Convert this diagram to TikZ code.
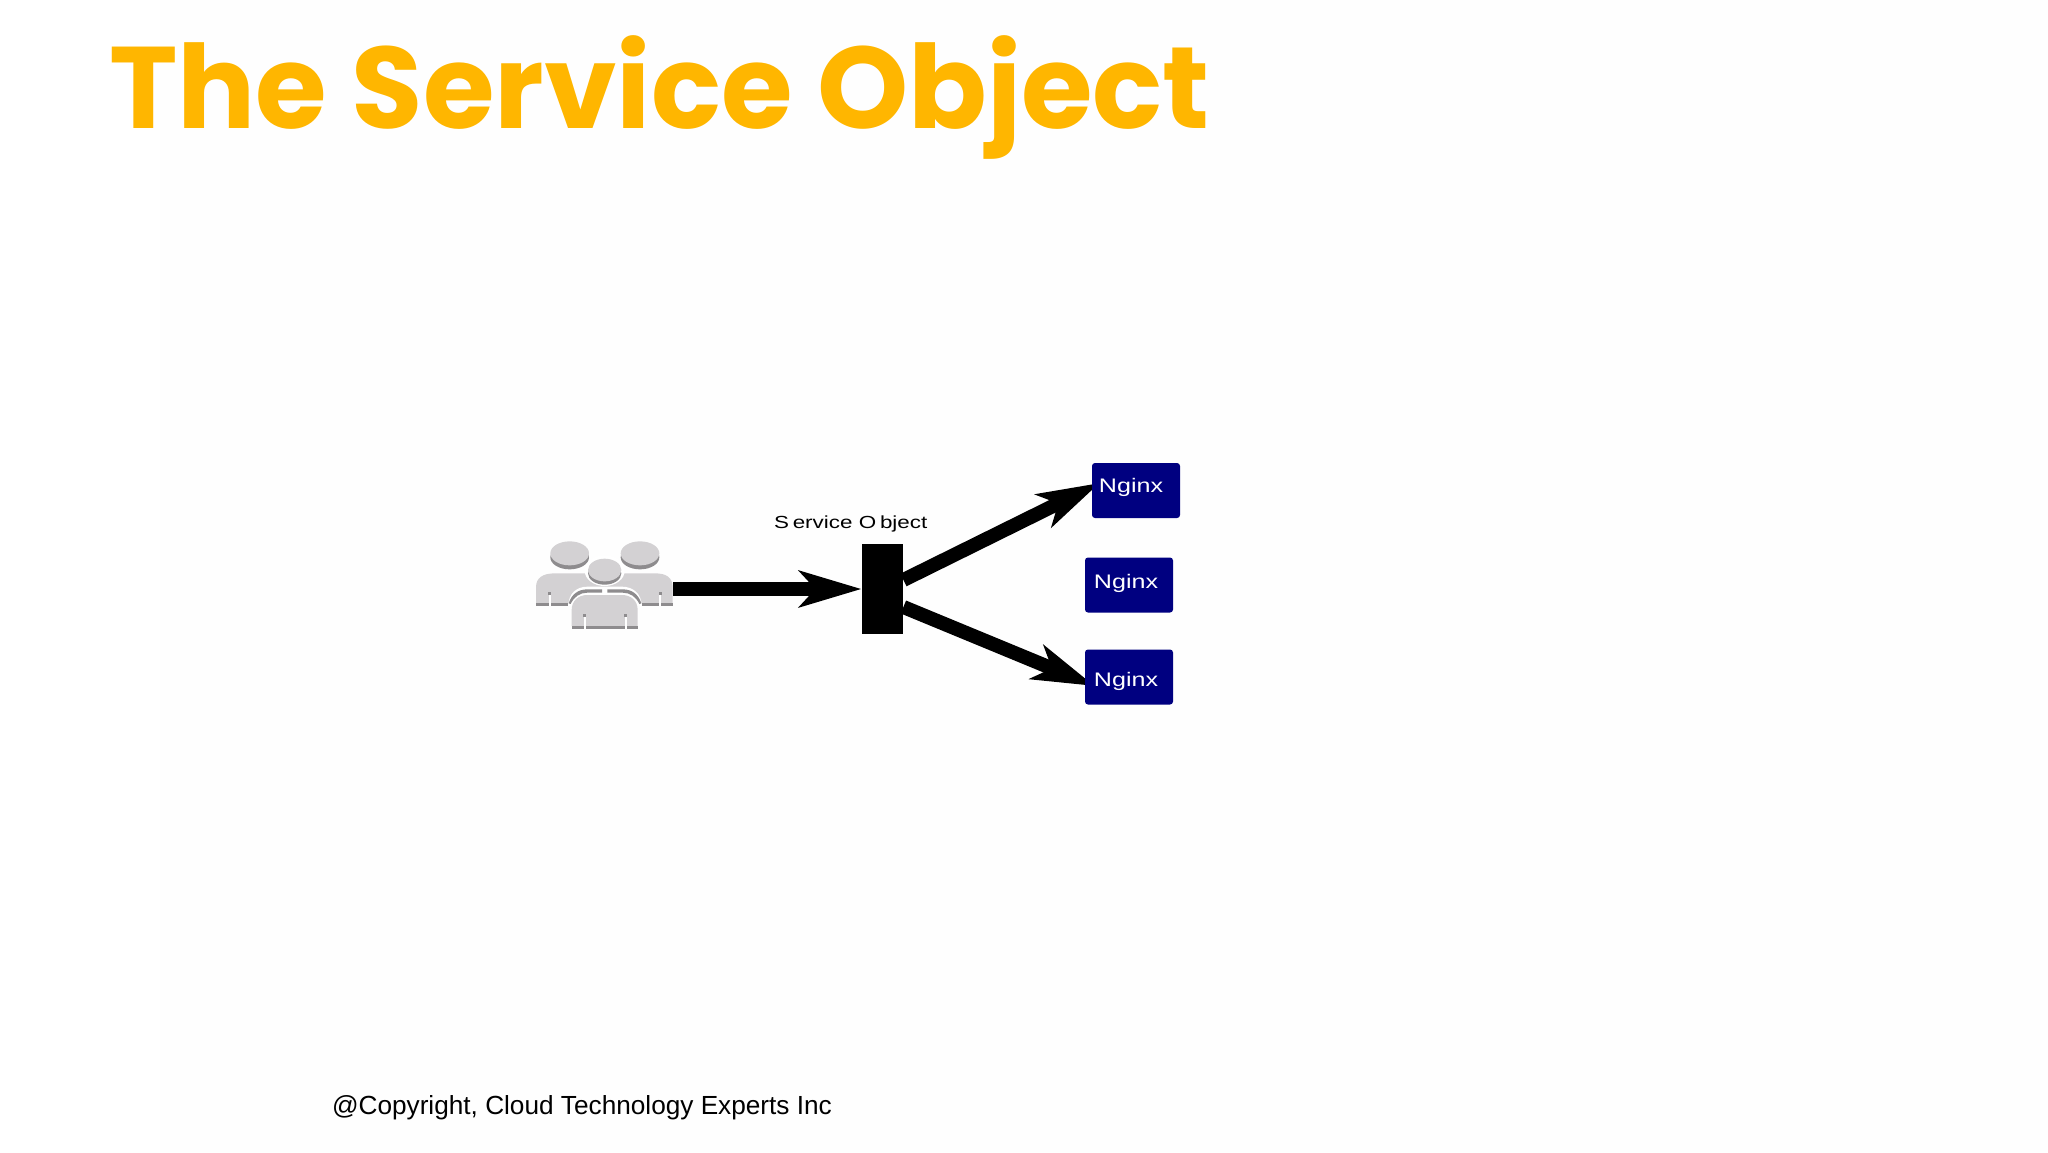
\documentclass[tikz,border=0pt]{standalone}
\usepackage{fontspec}
\setmainfont{Liberation Sans}
\newfontfamily\titlefont{Poppins}
\usetikzlibrary{arrows.meta,backgrounds}
\definecolor{titleyellow}{HTML}{FFB600}
\definecolor{navybox}{HTML}{000080}
\definecolor{usergray}{HTML}{D3D1D3}
\definecolor{usershade}{HTML}{8E8C8E}
\definecolor{pagebg}{HTML}{FEFEFE}
\tikzset{
  ngxbox/.style={fill=navybox,text=white,inner sep=0pt,minimum width=44pt,minimum height=27.5pt,rounded corners=1.5pt,font=\fontsize{9.8}{11}\selectfont},
  flow/.style={line width=7pt,black,-{Stealth[length=31pt,width=18pt,inset=8pt]}},
  svcbox/.style={fill=black,inner sep=0pt,minimum width=20.5pt,minimum height=45pt},
  plain/.style={inner sep=0pt,outer sep=0pt}
}
\begin{document}
\begin{tikzpicture}[x=0.5pt,y=-0.5pt]
\useasboundingbox (0,0) rectangle (2048,1152);
\node[plain,anchor=base west,text=titleyellow] (title) at (109,128) {\titlefont\bfseries\fontsize{58}{60}\selectfont The Service Object};
\node[plain,anchor=base west] (copy) at (332,1114) {\fontsize{13.1}{15}\selectfont @Copyright, Cloud Technology Experts Inc};
\node[plain,anchor=base west] (svclabel) at (774,528) {\scalebox{1.28}[1]{\fontsize{8.75}{10}\selectfont S\kern1.5pt ervice O\kern1.5pt bject}};
\node[plain,minimum width=68.5pt,minimum height=44.5pt] (users) at (604.5,585.5) {};
\node[svcbox] (svc) at (882.5,589) {};
\node[ngxbox,text height=10pt,text depth=8.5pt] (n1) at (1136,490.5) {\scalebox{1.28}[1]{Nginx}\kern5pt};
\node[ngxbox,text height=10pt,text depth=7pt] (n2) at (1129,585) {\scalebox{1.28}[1]{Nginx}\kern3pt};
\node[ngxbox,text height=10pt,text depth=1pt] (n3) at (1129,677) {\scalebox{1.28}[1]{Nginx}\kern3pt};
\begin{pgfonlayer}{background}
\fill[pagebg] (0,0) rectangle (2048,1152);
\fill[white] (0,0) rectangle (160,1152);
\draw[flow] (users.east |- svc.west) -- (svc.west);
\draw[flow] ([yshift=4.5pt]svc.east) -- ([xshift=4pt,yshift=3.75pt]n1.west);
\draw[flow] ([yshift=-9pt]svc.east) -- ([xshift=5pt,yshift=-4.5pt]n3.west);
\end{pgfonlayer}
% users icon, in 1/3 pixel units
\begin{scope}[shift={(500,440)},x=0.16667pt,y=-0.16667pt]
  \fill[usershade] (209,352) ellipse (58 and 36);
  \fill[usergray] (209,340) ellipse (58 and 36);
  \fill[usershade] (420,352) ellipse (58 and 36);
  \fill[usergray] (420,340) ellipse (58 and 36);
  % back bodies
  \fill[usergray] (108,490) -- (108,442) .. controls (108,412) and (130,400) .. (165,400) -- (250,400) -- (380,400) -- (465,400) .. controls (498,400) and (518,412) .. (518,442) -- (518,490) -- (425,490) -- (400,455) -- (230,455) -- (205,490) -- cycle;
  \fill[usershade] (108,490) rectangle (205,498);
  \fill[usershade] (425,490) rectangle (518,498);
  \fill[white] (148,466) rectangle (154,498);
  \fill[usershade] (144,457) rectangle (154,466);
  \fill[white] (478,466) rectangle (484,498);
  \fill[usershade] (476,457) rectangle (486,466);
  % gap around the front head
  \fill[white] (314,392) ellipse (60 and 46);
  \fill[usershade] (314,400) ellipse (50 and 34);
  \fill[usergray] (314,390) ellipse (50 and 34);
  % gap and shade over the front figure
  \fill[white] (205,498) .. controls (205,460) and (230,440) .. (262,440) -- (366,440) .. controls (398,440) and (425,460) .. (425,498) -- cycle;
  \fill[usershade] (206,490) .. controls (215,462) and (235,448) .. (262,448) -- (306,448) -- (306,458) -- (262,458) .. controls (240,458) and (222,470) .. (212,492) -- cycle;
  \fill[usershade] (424,490) .. controls (415,462) and (395,448) .. (368,448) -- (322,448) -- (322,458) -- (368,458) .. controls (390,458) and (408,470) .. (418,492) -- cycle;
  \fill[white] (312,440) rectangle (318,462);
  % front figure
  \fill[usergray] (215,558) -- (215,510) .. controls (215,482) and (235,465) .. (262,465) -- (366,465) .. controls (393,465) and (413,482) .. (413,510) -- (413,558) -- cycle;
  \fill[usershade] (215,558) rectangle (413,566);
  \fill[white] (252,530) rectangle (258,566);
  \fill[usershade] (249,521) rectangle (258,530);
  \fill[white] (374,530) rectangle (380,566);
  \fill[usershade] (372,521) rectangle (381,530);
\end{scope}
\end{tikzpicture}
\end{document}
